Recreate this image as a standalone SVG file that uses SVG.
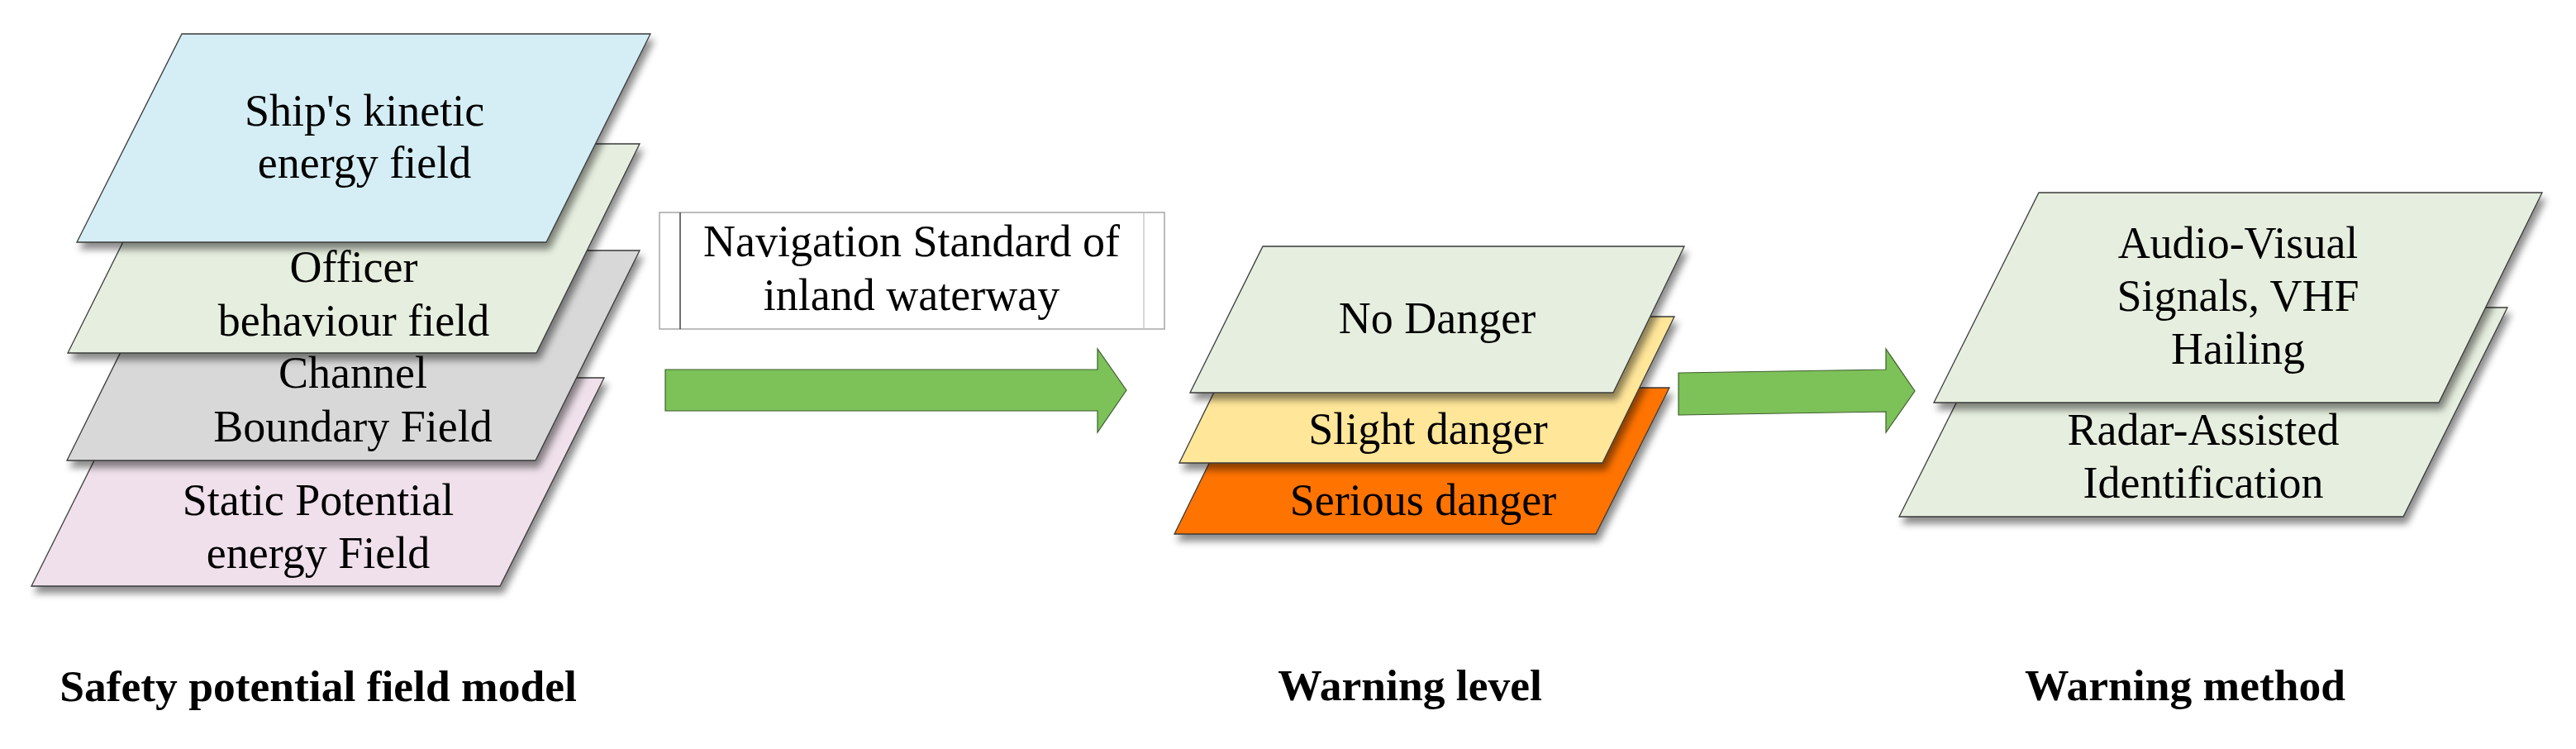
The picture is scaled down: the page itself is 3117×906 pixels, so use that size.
<svg xmlns="http://www.w3.org/2000/svg" width="3117" height="906" viewBox="0 0 3117 906">
<style>
.t{font-family:"Liberation Serif","Times New Roman",serif;font-size:54px;fill:#000;text-anchor:middle}
.b{font-family:"Liberation Serif","Times New Roman",serif;font-size:53.5px;font-weight:bold;fill:#000;text-anchor:middle}
.pg{stroke:#3a3a3a;stroke-width:1.3;filter:url(#sh)}
.arr{fill:#7DC159;stroke:#3f5f2f;stroke-width:1.2}
</style>
<defs>
<filter id="sh" x="-10%" y="-10%" width="125%" height="135%">
<feDropShadow dx="4" dy="8" stdDeviation="4" flood-color="#000" flood-opacity="0.45"/>
</filter>
</defs>
<rect width="3117" height="906" fill="#fff"/>

<g id="static-field">
<polygon class="pg" points="164,457 731,457 605,709 38,709" fill="#EFE0EB"/>
<text class="t" x="385" y="623">Static Potential</text>
<text class="t" x="385" y="687">energy Field</text>
</g>
<g id="channel-field">
<polygon class="pg" points="207,303 774,303 648,557 81,557" fill="#D8D8D8"/>
<text class="t" x="427" y="469">Channel</text>
<text class="t" x="427" y="534">Boundary Field</text>
</g>
<g id="officer-field">
<polygon class="pg" points="208,174 774,174 649,427 82,427" fill="#E6EFDF"/>
<text class="t" x="428" y="341">Officer</text>
<text class="t" x="428" y="406">behaviour field</text>
</g>
<g id="kinetic-field">
<polygon class="pg" points="220,41 787,41 661,293 93,293" fill="#D5EEF5"/>
<text class="t" x="441" y="152">Ship's kinetic</text>
<text class="t" x="441" y="215">energy field</text>
</g>

<g id="nav-standard">
<rect x="798" y="257" width="611" height="141" fill="#fff" stroke="#A6A6A6" stroke-width="1.5"/>
<line x1="823" y1="257" x2="823" y2="398" stroke="#404040" stroke-width="1.5"/>
<line x1="1384" y1="257" x2="1384" y2="398" stroke="#C8C8C8" stroke-width="1.5"/>
<text class="t" x="1103" y="310">Navigation Standard of</text>
<text class="t" x="1103" y="375">inland waterway</text>
</g>

<g id="serious-danger">
<polygon class="pg" points="1508,469 2020,469 1931,646 1421,646" fill="#FF7300"/>
<text class="t" x="1722" y="623">Serious danger</text>
</g>
<g id="slight-danger">
<polygon class="pg" points="1514,383 2026,383 1939,560 1427,560" fill="#FFE699"/>
<text class="t" x="1728" y="537">Slight danger</text>
</g>
<g id="no-danger">
<polygon class="pg" points="1528,298 2038,298 1952,475 1440,475" fill="#E6EFDF"/>
<text class="t" x="1739" y="403">No Danger</text>
</g>

<g id="radar">
<polygon class="pg" points="2425,372 3034,372 2908,625 2298,625" fill="#E6EFDF"/>
<text class="t" x="2666" y="538">Radar-Assisted</text>
<text class="t" x="2666" y="602">Identification</text>
</g>
<g id="audio-visual">
<polygon class="pg" points="2467,233 3076,233 2951,487 2340,487" fill="#E6EFDF"/>
<text class="t" x="2708" y="312">Audio-Visual</text>
<text class="t" x="2708" y="376">Signals, VHF</text>
<text class="t" x="2708" y="440">Hailing</text>
</g>

<g id="connectors">
<polygon class="arr" points="805,447 1328,447 1328,422 1363,472 1328,523 1328,497 805,497"/>
<polygon class="arr" points="2031,451 2282,447 2282,422 2317,473 2282,523 2282,498 2031,502"/>
</g>

<g id="labels">
<text class="b" x="385" y="848">Safety potential field model</text>
<text class="b" x="1706" y="847">Warning level</text>
<text class="b" x="2644" y="847">Warning method</text>
</g>
</svg>
